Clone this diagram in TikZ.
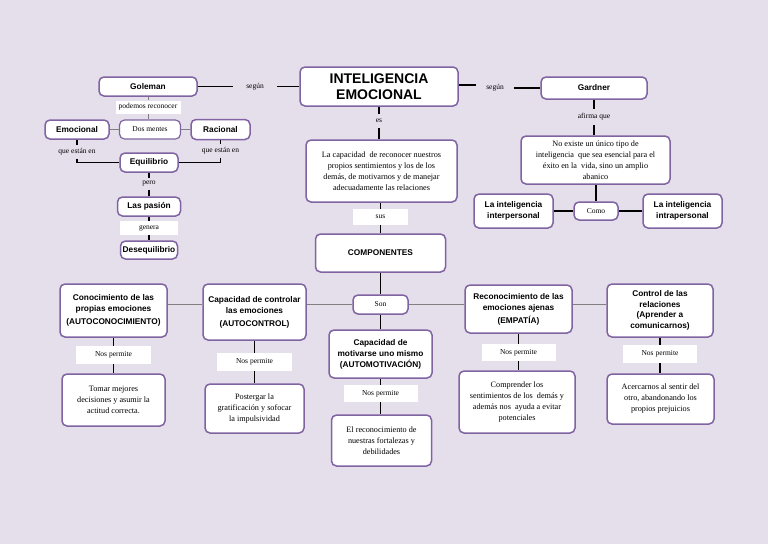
\documentclass[tikz,border=0pt]{standalone}
\usepackage{fontspec}
\setmainfont{Liberation Serif}
\setsansfont{Liberation Sans}
\definecolor{bgc}{HTML}{E5DFEC}
\definecolor{pborder}{HTML}{8064A2}
\definecolor{glin}{HTML}{808080}
\newcommand\vcon[4][blk]{\draw[#1] (#2.south) -- (#2.south |- #3.north) (#2.south |- #3.south) -- (#2.south |- #4.north);}
\begin{document}
\begin{tikzpicture}[x=1pt,y=-1pt,
  box/.style={draw=pborder, line width=1.5pt, rounded corners=5pt, fill=white, align=center, inner sep=1pt},
  bs/.style={box, font=\sffamily\bfseries\fontsize{8.3}{11}\selectfont},
  sr/.style={box, font=\fontsize{8.2}{11}\selectfont},
  lab/.style={fill=white, align=center, inner sep=1pt, font=\fontsize{7.5}{9}\selectfont},
  plain/.style={align=center, inner sep=1pt, font=\fontsize{7.5}{9}\selectfont},
  blk/.style={draw=black, line width=1.2pt},
  thk/.style={draw=black, line width=1.8pt},
  gry/.style={draw=glin, line width=1pt}]
\fill[bgc] (0,0) rectangle (768,544);
\useasboundingbox (0,0) rectangle (768,544);

% Title
\node[box, minimum width=158pt, minimum height=39pt, font=\sffamily\bfseries\fontsize{14}{15.5}\selectfont] (title) at (379,86.5) {INTELIGENCIA\\EMOCIONAL};

% Goleman branch
\node[bs, minimum width=98pt, minimum height=19pt] (gol) at (148,86.5) {Goleman};
\node[plain, minimum width=44pt] (seg1) at (255,86.5) {según};
\draw[thk] (gol.east) -- (gol.east -| seg1.west);
\draw[thk] (seg1.east |- title.west) -- (title.west);

\node[lab, minimum width=65pt, minimum height=13pt] (podemos) at (148,107) {podemos reconocer};
\node[sr, line width=1.2pt, minimum width=61pt, minimum height=19pt, font=\fontsize{7.5}{9}\selectfont] (dos) at (150,129.5) {Dos mentes};
\node[bs, minimum width=64pt, minimum height=19pt] (emo) at (77,129.5) {Emocional};
\node[bs, minimum width=59pt, minimum height=20pt] (rac) at (220.5,129.5) {Racional};
\vcon[gry]{gol}{podemos}{dos}
\draw[gry] (emo.east) -- (dos.west);
\draw[gry] (dos.east) -- (rac.west);

\node[bs, minimum width=58pt, minimum height=19pt] (equi) at (149,162.5) {Equilibrio};
\node[plain, minimum height=13pt] (qe1) at (77,152) {que están en};
\node[plain, minimum height=13pt] (qe2) at (220.5,151) {que están en};
\draw[blk] (emo.south) -- (emo.south |- qe1.north);
\draw[blk] (emo.south |- qe1.south) |- (equi.west);
\draw[blk] (rac.south) -- (rac.south |- qe2.north);
\draw[blk] (rac.south |- qe2.south) |- (equi.east);

\node[plain, minimum height=11pt] (pero) at (149,184) {pero};
\node[bs, minimum width=63pt, minimum height=19pt] (pasion) at (149,206.5) {Las pasión};
\node[lab, minimum width=58pt, minimum height=14pt] (genera) at (149,228) {genera};
\node[bs, minimum width=57pt, minimum height=18pt] (deseq) at (149,250) {Desequilibrio};
\vcon{equi}{pero}{pasion}
\vcon{pasion}{genera}{deseq}

% Gardner branch
\node[bs, minimum width=106pt, minimum height=22pt] (gar) at (594,88) {Gardner};
\node[plain, minimum width=38pt] (seg2) at (495,88) {según};
\draw[thk] ([yshift=1.5pt]title.east) -- ([yshift=1.5pt]title.east -| seg2.west);
\draw[thk] (seg2.east) -- (gar.west);
\node[plain, minimum height=16pt] (afirma) at (594,117) {afirma que};
\node[sr, minimum width=149pt, minimum height=48pt] (noex) at (595.5,160) {No existe un único tipo de\\inteligencia\ \ que sea esencial para el\\éxito en la\ \ vida, sino un amplio\\abanico};
\vcon{gar}{afirma}{noex}
\node[sr, minimum width=44pt, minimum height=18pt, font=\fontsize{7.5}{9}\selectfont] (como) at (596,211) {Como};
\node[bs, minimum width=79pt, minimum height=34pt] (inter) at (513.5,211) {La inteligencia\\interpersonal};
\node[bs, minimum width=79pt, minimum height=34pt] (intra) at (682.5,211) {La inteligencia\\intrapersonal};
\draw[blk] (como.north) -- (como.north |- noex.south);
\draw[blk] (como.west) -- (inter.east);
\draw[blk] (como.east) -- (intra.west);

% Center column
\node[plain, minimum height=14pt] (es) at (379,121) {es};
\node[sr, minimum width=151pt, minimum height=62pt] (def) at (381.5,171) {La capacidad\ \ de reconocer nuestros\\propios sentimientos y los de los\\demás, de motivarnos y de manejar\\adecuadamente las relaciones};
\vcon{title}{es}{def}
\node[lab, minimum width=55pt, minimum height=16pt] (sus) at (380.5,217) {sus};
\node[bs, minimum width=130pt, minimum height=38pt] (comp) at (380.5,253) {COMPONENTES};
\draw[blk] (sus.north) -- (sus.north |- def.south);
\draw[blk] (sus.south) -- (comp.north);
\node[sr, minimum width=55pt, minimum height=19pt, font=\fontsize{7.5}{9}\selectfont] (son) at (380.5,304.5) {Son};
\draw[blk] (comp.south) -- (son.north);

% Components
\node[bs, minimum width=107pt, minimum height=53pt] (c1) at (113.5,310.5) {Conocimiento de las\\propias emociones\\[2pt](AUTOCONOCIMIENTO)};
\node[bs, minimum width=103pt, minimum height=56pt] (c2) at (254.5,312) {Capacidad de controlar\\las emociones\\[2pt](AUTOCONTROL)};
\node[bs, minimum width=103pt, minimum height=48pt] (c3) at (380.5,354) {Capacidad de\\motivarse uno mismo\\(AUTOMOTIVACIÓN)};
\node[bs, minimum width=107pt, minimum height=48pt] (c4) at (518.5,309) {Reconocimiento de las\\emociones ajenas\\[2pt](EMPATÍA)};
\node[bs, minimum width=106pt, minimum height=53pt, font=\sffamily\bfseries\fontsize{8.3}{10.5}\selectfont] (c5) at (660,310.5) {Control de las\\relaciones\\(Aprender a\\comunicarnos)};

\draw[gry] (c1.east |- son.west) -- (c2.west |- son.west);
\draw[gry] (c2.east |- son.west) -- (son.west);
\draw[gry] (son.east) -- (c4.west |- son.east);
\draw[gry] (c4.east |- son.east) -- (c5.west |- son.east);
\draw[blk] (son.south) -- (c3.north);

% Nos permite labels
\node[lab, minimum width=75pt, minimum height=18pt] (n1) at (113.5,355) {Nos permite};
\node[lab, minimum width=75pt, minimum height=18pt] (n2) at (254.5,362) {Nos permite};
\node[lab, minimum width=74pt, minimum height=17pt] (n3) at (380.5,393.5) {Nos permite};
\node[lab, minimum width=74pt, minimum height=17pt] (n4) at (518.5,352.5) {Nos permite};
\node[lab, minimum width=74pt, minimum height=18pt] (n5) at (660,354) {Nos permite};

% Results
\node[sr, minimum width=103pt, minimum height=52pt] (r1) at (113.5,400) {Tomar mejores\\decisiones y asumir la\\actitud correcta.};
\node[sr, minimum width=99pt, minimum height=49pt] (r2) at (254.5,408.5) {Postergar la\\gratificación y sofocar\\la impulsividad};
\node[sr, minimum width=100pt, minimum height=51pt] (r3) at (381.5,440.5) {El reconocimiento de\\nuestras fortalezas y\\debilidades};
\node[sr, minimum width=116pt, minimum height=62pt] (r4) at (517,402) {Comprender los\\sentimientos de los\ \ demás y\\además nos\ \ ayuda a evitar\\potenciales};
\node[sr, minimum width=107pt, minimum height=50pt] (r5) at (660.5,399) {Acercarnos al sentir del\\otro, abandonando los\\propios prejuicios};

\foreach \i in {1,2,3,4,5} {
  \vcon{c\i}{n\i}{r\i}
}
\end{tikzpicture}
\end{document}
